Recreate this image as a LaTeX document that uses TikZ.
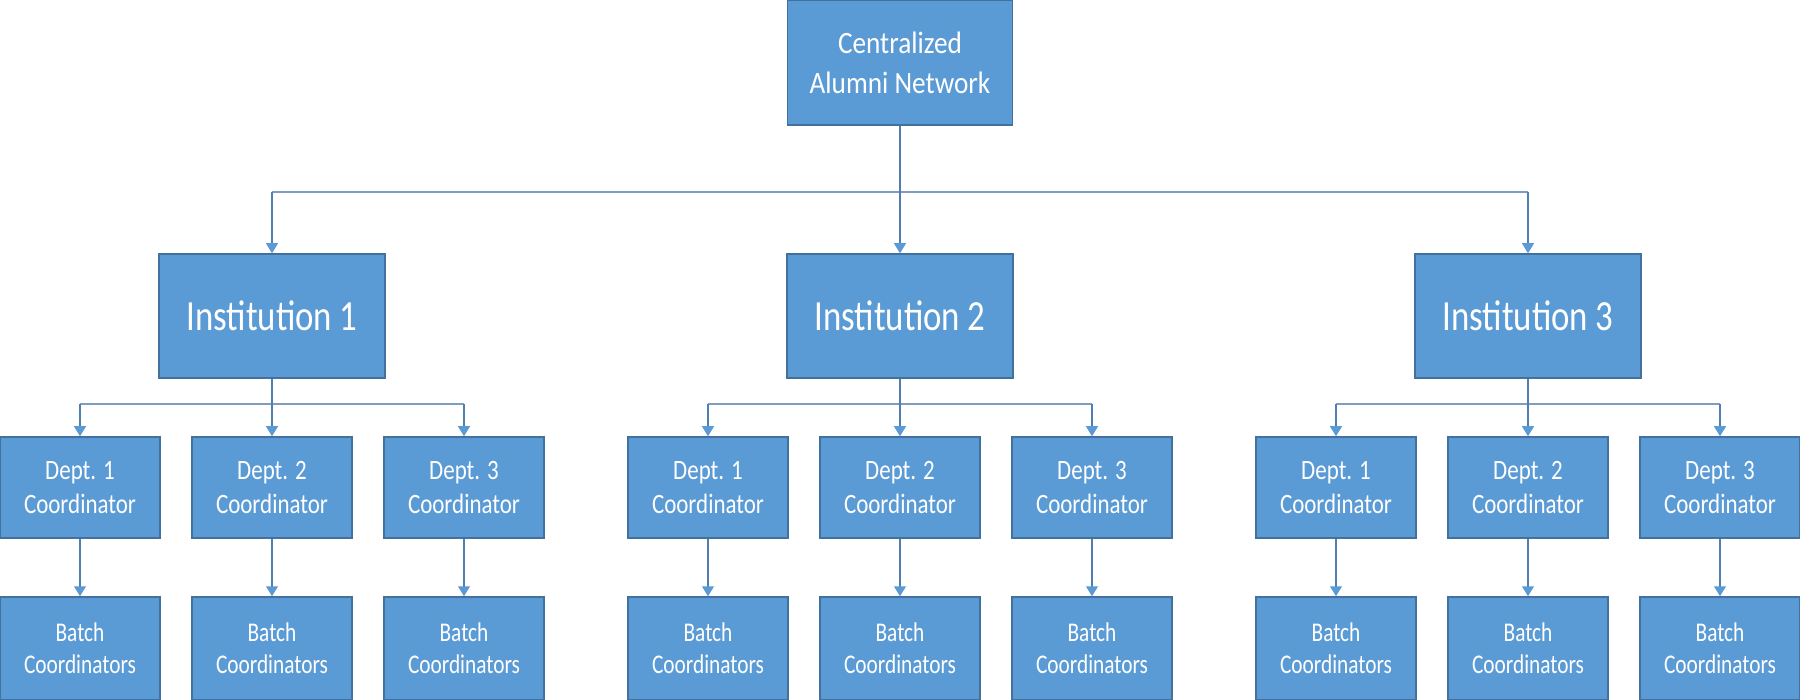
\documentclass[tikz,border=0pt]{standalone}
\usepackage{fontspec}
\setmainfont{Carlito}
\newfontfamily\topfont{Carlito}[FakeStretch=0.88]
\newfontfamily\instfont{Carlito}[FakeStretch=0.81]
\newfontfamily\deptfont{Carlito}[FakeStretch=0.82]
\newfontfamily\batchfont{Carlito}[FakeStretch=0.79]
\usetikzlibrary{arrows.meta}
\definecolor{boxfill}{HTML}{5B9BD5}
\definecolor{boxline}{HTML}{41719C}
\definecolor{connline}{HTML}{4F7FB0}
\definecolor{busline}{HTML}{7F9DBD}
\begin{document}
\begin{tikzpicture}[x=1pt,y=-1pt,
  box/.style={draw=boxline, fill=boxfill, line width=1.5pt, text=white, align=center, inner sep=0pt},
  topbox/.style={box, minimum width=225pt, minimum height=125pt, font=\topfont\fontsize{31}{40}\selectfont},
  instbox/.style={box, minimum width=226pt, minimum height=124pt, font=\instfont\fontsize{43}{50}\selectfont},
  deptbox/.style={box, minimum width=160pt, minimum height=101pt, font=\deptfont\fontsize{28}{34}\selectfont},
  batchbox/.style={box, minimum width=160pt, minimum height=103pt, font=\batchfont\fontsize{27}{32}\selectfont},
  conn/.style={draw=connline, line width=1.2pt, -{Triangle[width=12pt,length=10pt,fill=boxfill,color=boxfill]}},
  busstyle/.style={draw=busline, line width=1.3pt},
  stem/.style={draw=connline, line width=1.2pt}
]
\useasboundingbox (0,0) rectangle (1800,700);
\node[topbox] (top) at (900,62.5) {Centralized\\Alumni Network};
\coordinate (topbus) at (900,192);
\node[instbox] (i1) at (272,316) {Institution 1};
\node[instbox] (i2) at (900,316) {Institution 2};
\node[instbox] (i3) at (1528,316) {Institution 3};
\draw[busstyle] (i1.north |- topbus) -- (i3.north |- topbus);
\draw[stem] (top.south) -- (topbus);
\foreach \n in {i1,i2,i3} \draw[conn] (\n.north |- topbus) -- (\n.north);
\foreach \i/\cx in {1/272,2/900,3/1528} {
  \foreach \j/\dx in {1/-192,2/0,3/192} {
    \node[deptbox] (d\i\j) at (\cx+\dx,487.5) {Dept. \j\\Coordinator};
    \node[batchbox] (b\i\j) at (\cx+\dx,648.5) {Batch\\Coordinators};
    \draw[conn] (d\i\j) -- (b\i\j);
  }
  \coordinate (bus\i) at (\cx,404);
  \draw[busstyle] (d\i1.north |- bus\i) -- (d\i3.north |- bus\i);
  \draw[stem] (i\i.south) -- (bus\i);
  \foreach \j in {1,2,3} \draw[conn] (d\i\j.north |- bus\i) -- (d\i\j.north);
}
\end{tikzpicture}
\end{document}
